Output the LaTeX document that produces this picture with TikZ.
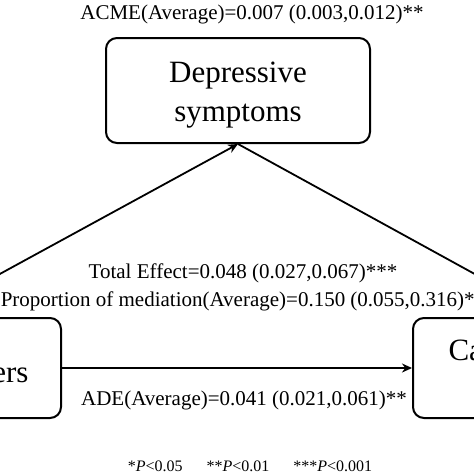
\documentclass[tikz,border=0pt]{standalone}
\usepackage{fontspec}
\setmainfont{Liberation Serif}
\usetikzlibrary{arrows.meta, positioning}

\begin{document}
\begin{tikzpicture}[x=1pt,y=-1pt,
  varbox/.style={draw, line width=2pt, rounded corners=11pt},
  link/.style={line width=1.8pt, -{Stealth[length=10pt,width=9pt]}},
  est/.style={font=\fontsize{21}{24}\selectfont},
  big/.style={font=\fontsize{31}{39}\selectfont}]
  \useasboundingbox (0,0) rectangle (474,474);
  \clip (0,0) rectangle (474,474);

  % mediator
  \node[est] (acme) at (252,14) {ACME(Average)=0.007 (0.003,0.012)**};
  \node[varbox, minimum width=264pt, minimum height=105pt] (depr) at (238,90.5) {};
  \node[big, align=center] (deprlbl) at (238,95) {Depressive\\symptoms};

  % exposure and outcome, cut at the edges
  \node[varbox, minimum width=280pt, minimum height=100pt] (expo) at (-79,368) {};
  \node[big, anchor=base east] (expolbl) at (32,382) {ers};
  \node[varbox, minimum width=280pt, minimum height=100pt] (outc) at (553,368) {};
  \node[big, anchor=base west] (outclbl) at (445,360) {Ca};

  \draw[link] (expo.north) -- (depr.south);
  \draw[link] (depr.south) -- (outc.north);
  \draw[link] (expo.east) -- (outc.west);

  \node[est] (total) at (243,273) {Total Effect=0.048 (0.027,0.067)***};
  \node[est] (prop) at (243,301) {Proportion of mediation(Average)=0.150 (0.055,0.316)**};
  \node[est] (ade) at (244,400) {ADE(Average)=0.041 (0.021,0.061)**};

  \node[font=\fontsize{16}{18}\selectfont] (note) at (250,466) {*\textit{P}<0.05\hspace{24pt}**\textit{P}<0.01\hspace{24pt}***\textit{P}<0.001};
\end{tikzpicture}
\end{document}
